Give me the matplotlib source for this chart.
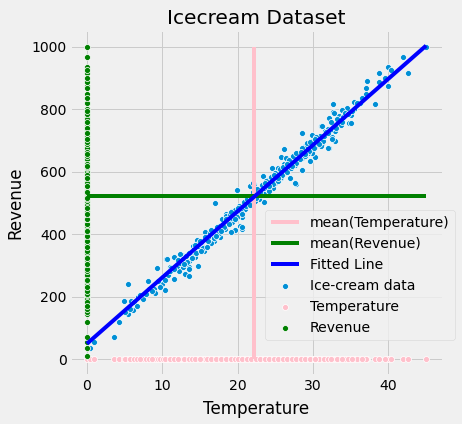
import matplotlib
matplotlib.use("Agg")
import matplotlib.pyplot as plt
import numpy as np

# ---- data ----
temperature = [
    0.0, 0.36, 0.98, 3.6, 4.3, 4.85, 5.4, 5.4, 6.1, 5.9, 6.75, 7.5, 8.1, 8.9, 9.9, 9.35,
    10.5, 10.3, 11.6, 12.2, 13.0, 13.5, 13.6, 12.6, 11.5, 12.8, 9.0, 10.4, 13.6, 14.8,
    17.05, 19.96, 21.7, 10.6, 12.3, 14.4, 15.5, 15.7, 16.8, 17.6, 18.4, 19.3, 20.3, 20.6,
    19.7, 19.1, 20.6, 18.8, 18.1, 14.1, 13.5, 16.6, 17.5, 14.6, 15.3, 12.8, 11.0,
    45.0, 41.9, 42.6, 39.9, 38.7, 39.9, 37.2, 38.2, 38.7, 37.0, 37.0, 35.5, 34.8, 34.5,
    33.8, 32.7, 32.7, 32.1, 33.4, 33.6, 32.9, 32.1, 31.1, 31.6, 31.2, 32.5, 30.5, 29.8,
    29.4, 28.6, 28.9, 29.9, 30.3, 29.6, 28.6, 27.7, 26.2, 27.0, 27.0, 25.8, 26.4, 25.3,
    24.5, 23.4, 24.0, 24.9, 25.7, 26.2, 24.7, 23.1, 22.2,
    40.4, 39.6, 36.2, 32.8, 35.1, 35.0, 33.7, 32.0, 32.9, 32.0, 32.5, 31.0, 29.8, 28.5,
    27.6, 23.5, 22.1, 20.6, 31.2,
    5.0, 5.7, 6.3, 6.6, 7.0, 7.8, 8.3, 8.6, 9.4, 9.7, 10.1, 10.8, 11.2, 11.9, 12.4, 12.7,
    13.1, 13.3, 13.9, 14.2, 14.5, 14.8, 15.1, 15.4, 15.8, 16.1, 16.4, 16.7, 17.0, 17.3,
    17.7, 18.0, 18.3, 18.6, 18.9, 19.2, 19.5, 19.8, 20.1, 20.4, 20.7, 21.0, 21.3, 21.6,
    21.9, 22.2, 22.5, 22.8, 23.1, 23.4, 23.7, 24.0, 24.3, 24.6, 24.9, 25.2, 25.5, 25.8,
    26.1, 26.4, 26.7, 27.0, 27.3, 27.6, 27.9, 28.2, 28.5, 28.8, 29.1, 29.4, 29.7, 30.0,
    30.3, 30.6, 30.9, 31.3, 31.7, 32.2, 32.6, 33.0, 33.5, 34.0, 34.3, 35.5, 35.9, 36.5,
    10.4, 11.0, 11.6, 12.1, 12.9, 13.6, 14.0, 14.7, 15.2, 15.6, 16.0, 16.3, 16.9, 17.2,
    17.5, 17.9, 18.2, 18.5, 18.8, 19.0, 19.3, 19.6, 19.9, 20.2, 20.5, 20.8, 21.1, 21.4,
    21.7, 22.0, 22.3, 22.6, 22.9, 23.2, 23.5, 23.8, 24.1, 24.4, 24.7, 25.0, 25.3, 25.6,
    25.9, 26.2, 26.5, 26.8, 27.1, 27.4, 27.7, 28.0, 28.3, 28.6, 28.9, 29.2, 29.5, 29.8,
    30.1, 30.4, 30.8, 31.5, 32.0, 32.4, 33.2, 33.9, 34.6, 35.2,
    14.3, 15.0, 15.9, 16.5, 17.1, 17.8, 18.4, 19.1, 19.7, 20.0, 20.6, 21.2, 21.8, 22.4,
    23.0, 23.6, 24.2, 24.8, 25.4, 26.0, 26.6, 27.2, 27.8, 28.4, 29.0, 29.6, 30.2,
]
revenue = [
    10, 35, 57, 71, 120, 187, 242, 146, 159, 186, 199, 194, 252, 226, 242, 293,
    322, 268, 258, 282, 274, 297, 267, 333, 327, 306, 213, 223, 290, 300,
    499, 542, 556, 320, 338, 327, 348, 407, 380, 391, 466, 476, 428, 418,
    414, 409, 455, 439, 446, 364, 316, 412, 428, 382, 364, 295, 295,
    1000, 968, 918, 936, 916, 875, 891, 817, 889, 868, 849, 825, 756, 806,
    798, 817, 793, 772, 780, 750, 732, 676, 748, 732, 689, 712, 700, 719,
    694, 724, 684, 659, 649, 636, 606, 561, 673, 625, 582, 649, 644, 614,
    612, 586, 574, 577, 582, 598, 550, 529, 561,
    925, 902, 822, 790, 783, 758, 749, 737, 700, 678, 704, 684, 662, 723,
    566, 503, 566, 423, 748,
    150, 160, 185, 172, 205, 208, 225, 218, 250, 232, 262, 270, 292, 300, 308, 322,
    330, 312, 335, 352, 340, 362, 374, 355, 385, 390, 372, 402, 410, 398,
    420, 432, 418, 445, 452, 440, 468, 472, 462, 488, 495, 480, 502, 515,
    498, 525, 530, 512, 548, 545, 560, 548, 572, 580, 565, 592, 598, 585,
    610, 618, 605, 630, 640, 622, 650, 662, 645, 670, 680, 662, 690, 695,
    680, 708, 715, 700, 728, 735, 752, 740, 765, 775, 790, 800, 820, 835,
    255, 282, 290, 318, 305, 340, 325, 370, 348, 392, 378, 405, 388, 425,
    405, 448, 425, 458, 432, 465, 452, 478, 455, 490, 470, 505, 490, 520,
    495, 535, 508, 545, 525, 558, 530, 570, 540, 585, 560, 595, 572, 610,
    590, 625, 600, 638, 612, 652, 628, 660, 640, 675, 650, 692, 668, 700,
    675, 712, 690, 715, 725, 760, 768, 760, 785, 795,
    365, 380, 360, 415, 395, 410, 450, 470, 450, 485, 465, 512, 520, 515,
    535, 565, 555, 590, 580, 615, 625, 620, 660, 665, 658, 695, 705,
]
mean_temperature = 22.2
mean_revenue = 522
fit_slope = 21.2
fit_intercept = 50.0

plt.style.use("fivethirtyeight")

T = np.array(temperature)
R = np.array(revenue)

fig = plt.figure(figsize=(462 / 72, 424 / 72), dpi=72)
ax = fig.add_axes([70 / 462, 49 / 424, 373 / 462, 345 / 424])

ax.plot([mean_temperature, mean_temperature], [0, R.max()], color="pink",
        label="mean(Temperature)")
ax.plot([0, T.max()], [mean_revenue, mean_revenue], color="green",
        label="mean(Revenue)")
xs = np.array([T.min(), T.max()])
ax.plot(xs, fit_intercept + fit_slope * xs, color="blue", label="Fitted Line")

ax.scatter(T, R, s=36, color="#008fd5", edgecolor="white", linewidth=0.75,
           label="Ice-cream data")
ax.scatter(T, np.zeros_like(T), s=36, color="pink", edgecolor="white",
           linewidth=0.75, label="Temperature")
ax.scatter(np.zeros_like(R), R, s=36, color="green", edgecolor="white",
           linewidth=0.75, label="Revenue")

ax.set_title("Icecream Dataset")
ax.set_xlabel("Temperature", labelpad=7)
ax.set_ylabel("Revenue", labelpad=7)
ax.set_xticks([0, 10, 20, 30, 40])
ax.set_yticks([0, 200, 400, 600, 800, 1000])

ax.legend(loc="lower right", bbox_to_anchor=(1.032, 0.101), borderaxespad=0)

fig.savefig("out.png", dpi=72, facecolor=fig.get_facecolor())
